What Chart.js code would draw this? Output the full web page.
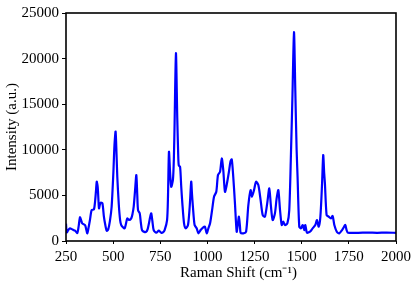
<!DOCTYPE html>
<html>
<head>
<meta charset="utf-8">
<script src="https://cdn.jsdelivr.net/npm/chart.js@4/dist/chart.umd.min.js"></script>
<style>
html,body{margin:0;padding:0;background:#fff;}
#wrap{width:415px;height:287px;}
</style>
</head>
<body>
<div id="wrap"><canvas id="c" width="415" height="287"></canvas></div>
<script>
const ramanShift = [250,254,262,271,285,298,310,317,324,330,336,351,357,363,370,377,386,398,404,409,413,418,422,425,430,434,443,451,458,466,474,483,492,501,507,513,518,522,530,537,543,552,561,568,575,584,596,603,609,616,623,628,632,641,647,653,665,676,683,690,696,702,708,715,729,742,755,764,773,786,791,796,802,808,817,822,826,833,840,845,848,855,861,867,876,885,897,906,914,918,923,932,943,952,964,978,987,996,1005,1014,1026,1035,1047,1056,1067,1076,1084,1093,1102,1114,1122,1129,1137,1146,1155,1161,1167,1173,1176,1190,1205,1217,1229,1236,1247,1258,1270,1282,1293,1305,1317,1328,1337,1346,1358,1367,1376,1385,1394,1402,1411,1424,1434,1443,1451,1459,1466,1473,1478,1487,1496,1505,1514,1519,1528,1544,1558,1572,1581,1590,1599,1608,1614,1619,1623,1632,1643,1655,1664,1673,1686,1699,1714,1723,1731,1738,1745,1800,1850,1900,1950,2000];
const intensity = [1900,950,1200,1390,1250,1130,880,1600,2600,2300,1940,1750,1300,840,1500,2300,3390,3460,4300,5500,6500,5950,4500,3580,4000,4200,4130,2670,1800,1130,1270,2200,3760,7400,10500,12000,9500,7040,4000,2300,1750,1500,1390,1900,2480,2300,2480,3000,3760,5500,7230,5000,3390,3030,2000,1200,1000,1020,1300,1940,2600,3030,2200,1200,910,1130,910,950,1200,2300,5000,9780,7500,5950,6700,9000,13000,20600,13500,9500,8300,8140,6000,4130,1940,1390,1750,3760,6500,5200,3760,1750,1390,840,1200,1500,1570,840,1390,1940,3580,4850,5400,7230,7600,9050,7780,5400,6130,7590,8700,8950,7040,4130,1020,1800,2670,1500,910,840,1020,3940,5580,4850,5580,6500,6130,4490,2850,2670,4130,5770,3760,2300,3030,4670,5580,3390,1750,2120,1750,1940,3390,9600,16000,22900,16500,10000,7040,1570,1390,1750,1200,1750,910,1020,1390,1750,2300,1570,2670,6320,9420,7500,6320,2850,2670,2480,2740,1750,1020,840,1200,1500,1750,1200,910,900,920,900,920,900];
const xTitle = '\u2003Raman Shift (cm\u207B\u00B9)';
const yTitle = 'Intensity (a.u.)';

const frame = {
  id: 'frame',
  afterDatasetsDraw(chart) {
    const a = chart.chartArea, ctx = chart.ctx;
    ctx.save();
    ctx.strokeStyle = '#000';
    ctx.lineWidth = 1.6;
    ctx.strokeRect(a.left, a.top, a.right - a.left, a.bottom - a.top);
    ctx.restore();
  }
};

const font = {family: '"Liberation Serif", "Times New Roman", serif', size: 15};
const plain = v => String(v);

new Chart(document.getElementById('c'), {
  type: 'line',
  data: {
    datasets: [{
      data: ramanShift.map((x, i) => ({x: x, y: intensity[i]})),
      borderColor: '#0000FF',
      borderWidth: 2.2,
      pointRadius: 0,
      tension: 0.25,
      fill: false
    }]
  },
  options: {
    responsive: false,
    animation: false,
    layout: {padding: {top: 13, right: 19, left: 0, bottom: 0}},
    plugins: {legend: {display: false}, tooltip: {enabled: false}},
    scales: {
      x: {
        type: 'linear', min: 250, max: 2000,
        afterFit(s) { s.height = 46; },
        ticks: {stepSize: 250, color: '#000', font: font, padding: 4, maxRotation: 0, autoSkip: false, callback: plain},
        grid: {display: true, drawOnChartArea: false, drawTicks: true, tickLength: 3, color: '#000'},
        border: {display: false},
        title: {display: true, text: xTitle, color: '#000', font: font, padding: {top: 0, bottom: 5}}
      },
      y: {
        min: 0, max: 25000,
        afterFit(s) { s.width = 66; },
        ticks: {stepSize: 5000, color: '#000', font: font, padding: 3, callback: plain},
        grid: {display: true, drawOnChartArea: false, drawTicks: true, tickLength: 4, color: '#000'},
        border: {display: false},
        title: {display: true, text: yTitle, color: '#000', font: font, padding: {top: 3, bottom: 0}}
      }
    }
  },
  plugins: [frame]
});
</script>
</body>
</html>
